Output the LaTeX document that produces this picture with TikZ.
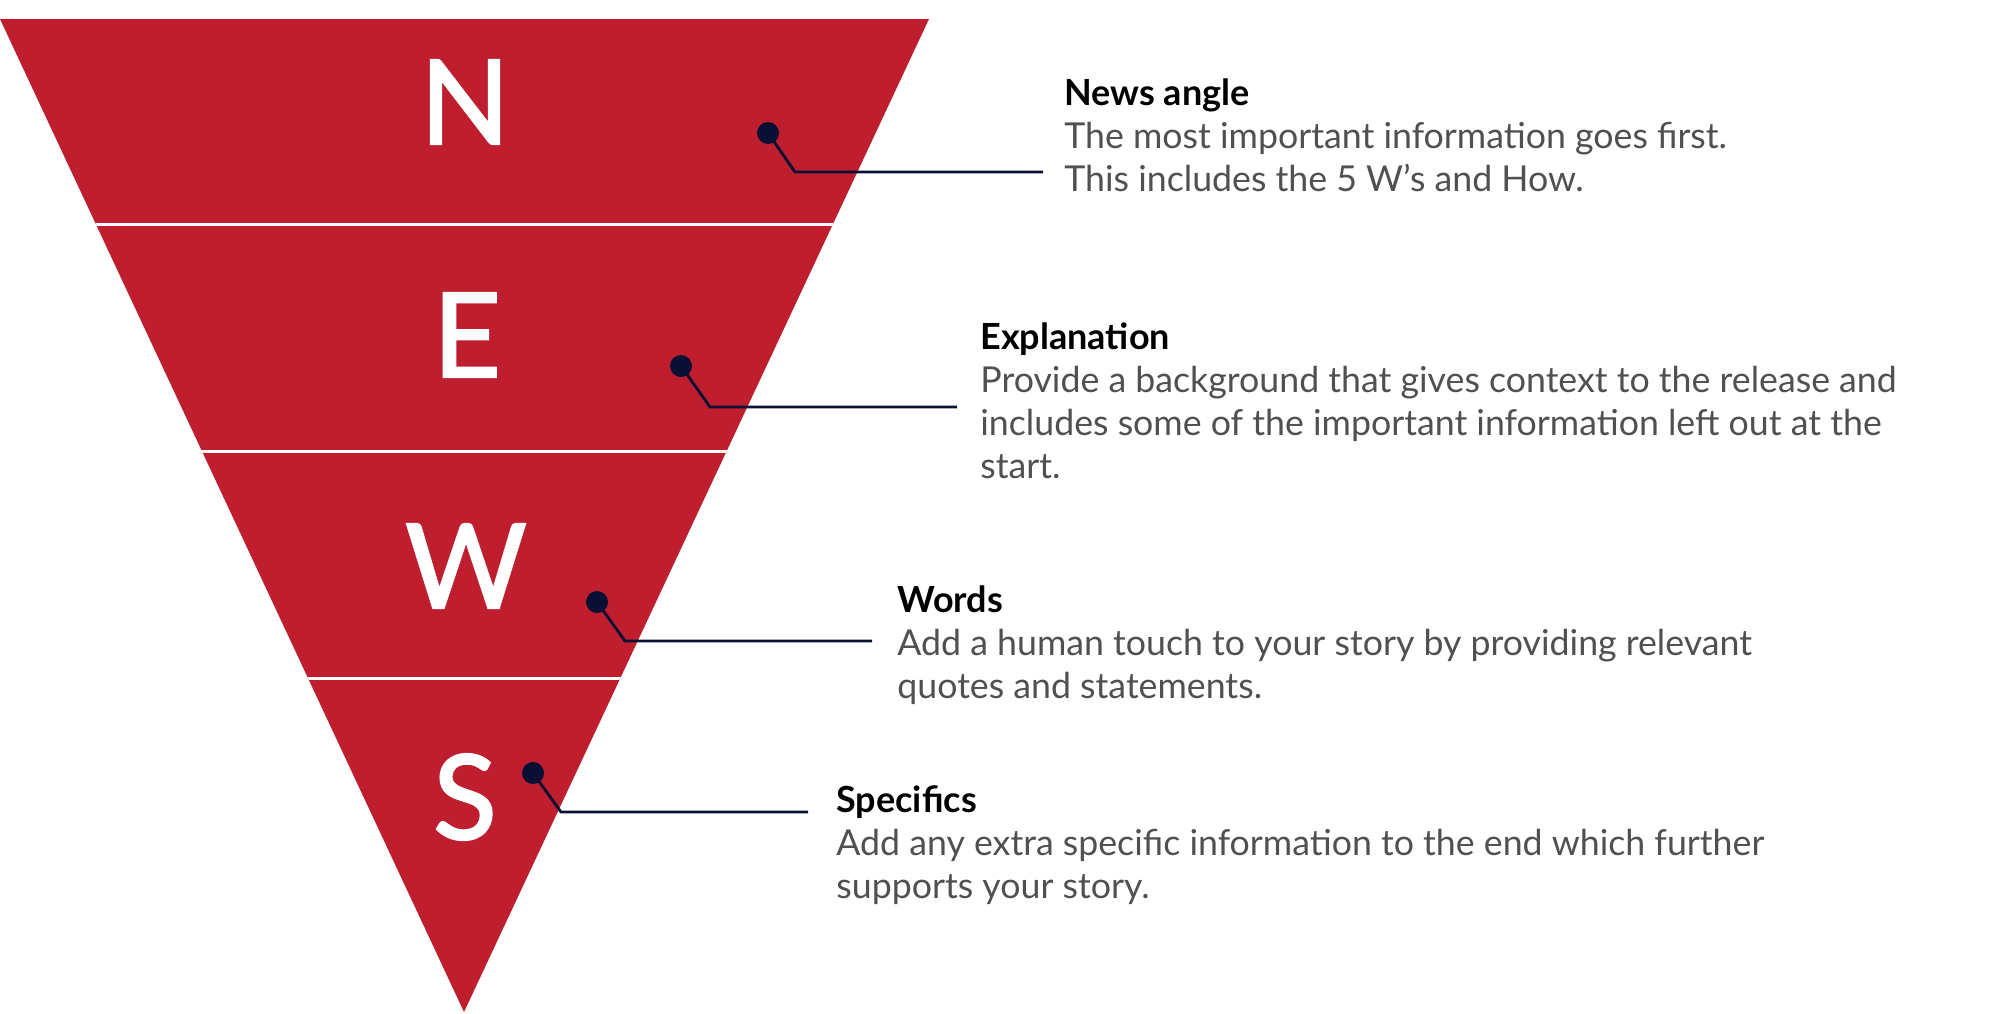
\documentclass[tikz,border=0pt]{standalone}
\usepackage{fontspec}
\setmainfont{Lato}
\newfontfamily\latobold{Lato Bold}
\newfontfamily\latoletter{Lato}[FakeBold=2]
\definecolor{funnelred}{HTML}{BE1E2E}
\definecolor{navy}{HTML}{0A1033}
\definecolor{bodygray}{HTML}{505050}
\begin{document}
\begin{tikzpicture}[x=0.5pt,y=-0.5pt,
  letter/.style={text=white,font=\latoletter\fontsize{58.6pt}{60pt}\selectfont,anchor=base,inner sep=0pt},
  dotc/.style={circle,fill=navy,minimum size=11pt,inner sep=0pt},
  conn/.style={draw=navy,line width=1.4pt,line join=miter},
  ttl/.style={anchor=base west,inner sep=0pt,text=black,font=\latobold\fontsize{18pt}{21.5pt}\selectfont},
  bdy/.style={anchor=base west,inner sep=0pt,text=bodygray,font=\fontsize{17.85pt}{21.5pt}\selectfont},
  sep/.style={draw=white,line width=1.5pt}]
\useasboundingbox (0,0) rectangle (2000,1013);
% funnel
\fill[funnelred] (0,19) -- (929,19) -- (464,1012) -- cycle;
\begin{scope}
\clip (0,19) -- (929,19) -- (464,1012) -- cycle;
\draw[sep] (0,224) -- (930,224);
\draw[sep] (0,451) -- (930,451);
\draw[sep] (0,678) -- (930,678);
\end{scope}
% letters
\node[letter] (lN) at (465,144) {N};
\node[letter] (lE) at (467,377) {E};
\node[letter] (lW) at (466,608) {W};
\node[letter] (lS) at (465,839) {S};
% connectors
\node[dotc] (d1) at (768,133) {};
\coordinate (e1) at (795,172);
\coordinate (f1) at (1043,172);
\draw[conn] (d1.center) -- (e1) -- (f1);
\node[dotc] (d2) at (681,366) {};
\coordinate (e2) at (710,407);
\coordinate (f2) at (957,407);
\draw[conn] (d2.center) -- (e2) -- (f2);
\node[dotc] (d3) at (597,602) {};
\coordinate (e3) at (625,641);
\coordinate (f3) at (872,641);
\draw[conn] (d3.center) -- (e3) -- (f3);
\node[dotc] (d4) at (533,773) {};
\coordinate (e4) at (561,812);
\coordinate (f4) at (808,812);
\draw[conn] (d4.center) -- (e4) -- (f4);
% texts
\node[ttl] (t1) at (1064,105) {News angle};
\node[bdy] (b1a) at (1064,148) {The most important information goes first.};
\node[bdy] (b1b) at (1064,191) {This includes the 5 W’s and How.};
\node[ttl] (t2) at (980,349) {Explanation};
\node[bdy] (b2a) at (980,392) {Provide a background that gives context to the release and};
\node[bdy] (b2b) at (980,435) {includes some of the important information left out at the};
\node[bdy] (b2c) at (980,478) {start.};
\node[ttl] (t3) at (897,612) {Words};
\node[bdy] (b3a) at (897,655) {Add a human touch to your story by providing relevant};
\node[bdy] (b3b) at (897,698) {quotes and statements.};
\node[ttl] (t4) at (836,812) {Specifics};
\node[bdy] (b4a) at (836,855) {Add any extra specific information to the end which further};
\node[bdy] (b4b) at (836,898) {supports your story.};
\end{tikzpicture}
\end{document}
